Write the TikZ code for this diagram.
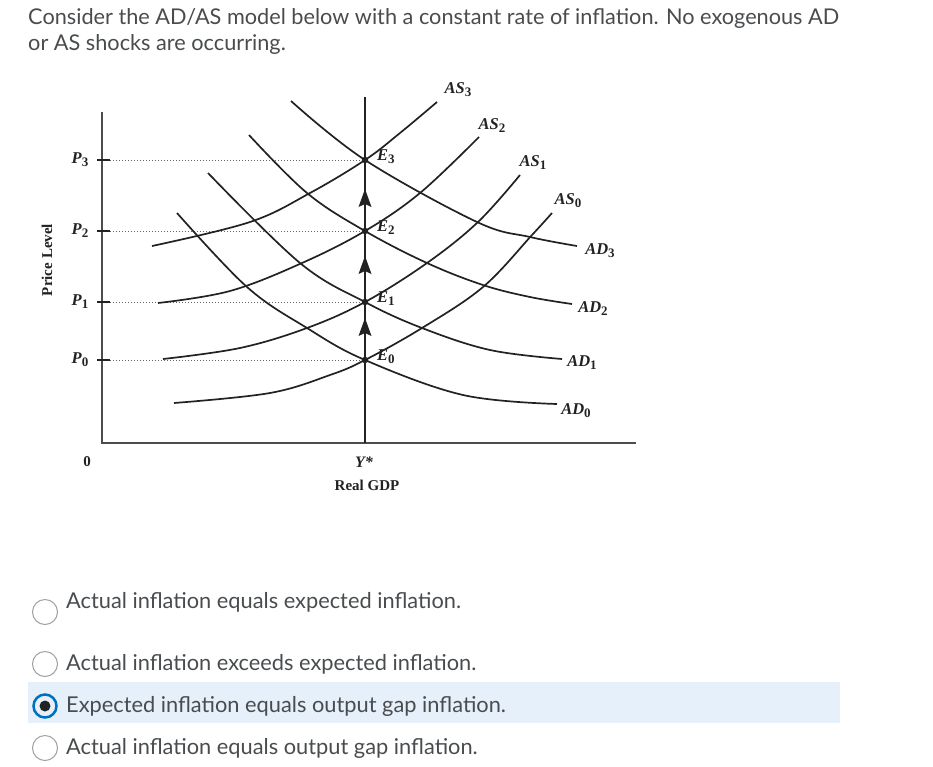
\documentclass[tikz,border=0pt]{standalone}
\usepackage{fontspec}
\setmainfont{Lato}
\newfontfamily\gfont{Liberation Serif}
\usetikzlibrary{arrows.meta}
\definecolor{txt}{HTML}{494C4E}
\definecolor{hl}{HTML}{E6F0FA}
\definecolor{ringblue}{HTML}{006FBF}
\definecolor{ink}{HTML}{222222}
\newcommand\glbl[2]{\textbf{\textit{#1}}\raisebox{-0.4ex}{\fontsize{13}{13}\selectfont\textbf{#2}}}
\tikzset{
  curve/.style={line width=1.7pt, draw=ink},
  lbl/.style={font=\gfont\fontsize{16.5}{16.5}\selectfont, inner sep=0pt, text=ink},
  axlbl/.style={font=\gfont\bfseries\fontsize{15}{15}\selectfont, inner sep=0pt, text=ink},
  dotline/.style={dotted, line width=1pt, draw=black!60},
  tick/.style={line width=2pt, draw=ink},
  axisline/.style={line width=2pt, draw=black!70},
  radio/.style={circle, draw=gray!75, line width=1pt, minimum size=25pt, inner sep=0pt},
  qtext/.style={font=\fontsize{21.7}{26}\selectfont, text=txt, inner sep=0pt, anchor=west},
  atext/.style={font=\fontsize{21.8}{26}\selectfont, text=txt, inner sep=0pt, anchor=west},
  eqdot/.style={circle, fill=ink, inner sep=0pt, minimum size=6.5pt}
}
\begin{document}
\begin{tikzpicture}[x=1pt,y=-1pt]
\useasboundingbox (0,0) rectangle (933,766);
% question
\node[qtext] (q1) at (28,18) {Consider the AD/AS model below with a constant rate of inflation. No exogenous AD};
\node[qtext] (q2) at (28,44) {or AS shocks are occurring.};
% axes
\coordinate (ytop) at (102,112);
\coordinate (orig) at (102,443);
\coordinate (xend) at (636,443);
\draw[axisline] (ytop) -- (orig) -- (xend);
% Y* line
\coordinate (Ytop) at (365,97);
\coordinate (Ybot) at (365,443);
\coordinate (E3) at (365,160);
\coordinate (E2) at (365,231);
\coordinate (E1) at (365,302);
\coordinate (E0) at (365,360);
\draw[curve] (Ytop) -- (Ybot);
% arrowheads on the Y* line
\foreach \t in {189,256,318}{
  \fill[ink] (365,\t) -- (358.5,\t+18) -- (365,\t+15) -- (371.5,\t+18) -- cycle;
}
% price levels
\foreach \k/\y in {3/160,2/231,1/302,0/360}{
  \coordinate (tL\k) at (97,\y);
  \coordinate (tR\k) at (110,\y);
  \draw[tick] (tL\k) -- (tR\k);
  \draw[dotline] (tR\k) -- (E\k);
  \node[lbl] (P\k) at (80,\y) {\glbl{P}{\k}};
}
% AS curves
\draw[curve] plot[smooth, tension=0.6] coordinates {(152,246) (250,222) (310,193) (365,160) (400,133) (437,102)};
\draw[curve] plot[smooth, tension=0.6] coordinates {(158,303) (230,291) (302,263) (365,231) (420,193) (479,137)};
\draw[curve] plot[smooth, tension=0.6] coordinates {(163,359) (240,348) (307,328) (365,302) (427,263) (478,222) (520,175)};
\draw[curve] plot[smooth, tension=0.6] coordinates {(174,403) (270,393) (330,375) (365,360) (422,328) (483,287) (532,235) (552,213)};
% AD curves
\draw[curve] plot[smooth, tension=0.6] coordinates {(291,101) (365,160) (477,222) (530,237) (577,246)};
\draw[curve] plot[smooth, tension=0.6] coordinates {(249,135) (307,193) (365,231) (427,263) (483,285) (530,297) (572,304)};
\draw[curve] plot[smooth, tension=0.6] coordinates {(208,173) (300,263) (365,302) (422,328) (490,350) (562,359)};
\draw[curve] plot[smooth, tension=0.6] coordinates {(177,213) (247,287) (307,328) (365,360) (463,395) (557,404)};
% equilibrium dots and labels
\foreach \k in {0,1,2,3}{
  \node[eqdot] (d\k) at (E\k) {};
  \node[lbl, anchor=west] (EL\k) at ([xshift=12pt,yshift=3pt]E\k) {\glbl{E}{\k}};
}
% curve labels
\node[lbl] (AS3) at (458,90) {\glbl{AS}{3}};
\node[lbl] (AS2) at (492,126) {\glbl{AS}{2}};
\node[lbl] (AS1) at (533,163) {\glbl{AS}{1}};
\node[lbl] (AS0) at (568,201) {\glbl{AS}{0}};
\node[lbl] (AD3) at (600,251) {\glbl{AD}{3}};
\node[lbl] (AD2) at (593,309) {\glbl{AD}{2}};
\node[lbl] (AD1) at (582,363) {\glbl{AD}{1}};
\node[lbl] (AD0) at (576,411) {\glbl{AD}{0}};
% axis labels
\node[axlbl] (zero) at (87,462) {0};
\node[axlbl, font=\gfont\bfseries\itshape\fontsize{16}{16}\selectfont] (ystar) at (364,462) {Y*};
\node[axlbl] (rgdp) at (367,485) {Real GDP};
\node[axlbl, rotate=90] (plev) at (47,260) {Price Level};
% answers
\fill[hl] (28,682) rectangle (840,723);
\node[radio] (r1) at (45,612) {};
\node[atext] (a1) at (66,602) {Actual inflation equals expected inflation.};
\node[radio] (r2) at (45,664) {};
\node[atext] (a2) at (66,664) {Actual inflation exceeds expected inflation.};
\node[radio, draw=ringblue, line width=2.5pt, minimum size=23pt] (r3) at (45,706) {};
\node[circle, fill=ink, inner sep=0pt, minimum size=11pt] (r3dot) at (r3) {};
\node[atext] (a3) at (66,706) {Expected inflation equals output gap inflation.};
\node[radio] (r4) at (45,748) {};
\node[atext] (a4) at (66,748) {Actual inflation equals output gap inflation.};
\end{tikzpicture}
\end{document}
